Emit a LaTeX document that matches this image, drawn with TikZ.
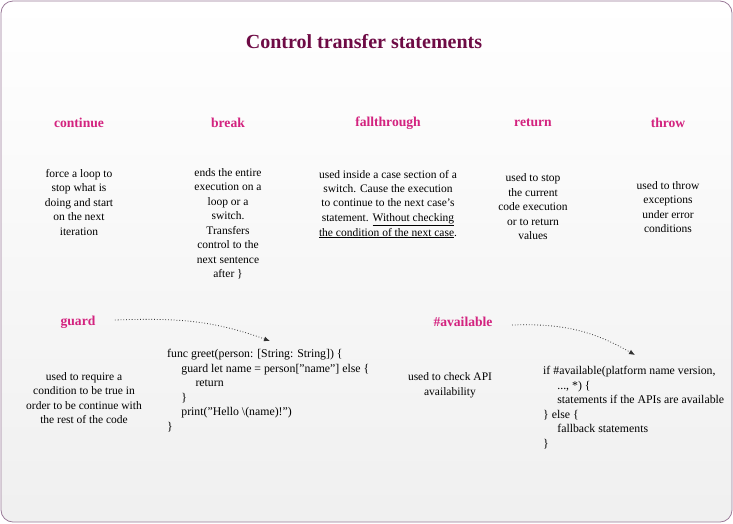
\documentclass[tikz,border=0pt]{standalone}
\usepackage{fontspec}
\setmainfont{Liberation Serif}
\usetikzlibrary{arrows.meta}
\definecolor{ttl}{HTML}{6E0B45}
\definecolor{kw}{HTML}{D3237F}
\definecolor{frame}{HTML}{9A7A98}
\newcommand{\dq}{\symbol{34}}
\begin{document}
\begin{tikzpicture}[x=1pt,y=-1pt,
  kwd/.style={text=kw,font=\bfseries\fontsize{13.6}{16}\selectfont},
  desc/.style={align=center,font=\fontsize{11.5}{14.5}\selectfont,inner sep=0},
  code/.style={align=left,font=\fontsize{11.8}{14.6}\selectfont,inner sep=0,anchor=north west},
  link/.style={dotted,line width=0.8pt,-{Latex[length=6pt,width=5pt]},black!80}]
\useasboundingbox (0,0) rectangle (733,523);
\shade[top color=white,bottom color=black!6,draw=frame,rounded corners=12pt,line width=0.8pt] (1,1) rectangle (732,522);
\node[text=ttl,font=\bfseries\fontsize{20}{24}\selectfont] (title) at (364,42) {Control transfer statements};
\node[kwd] (k1) at (79,123) {continue};
\node[kwd] (k2) at (228,123) {break};
\node[kwd] (k3) at (388,123) {fallthrough};
\node[kwd] (k4) at (533,123) {return};
\node[kwd] (k5) at (668,123) {throw};
\node[desc] (d1) at (79,202) {force a loop to\\stop what is\\doing and start\\on the next\\iteration};
\node[desc] (d2) at (228,224) {ends the entire\\execution on a\\loop or a\\switch.\\Transfers\\control to the\\next sentence\\after \}};
\node[desc] (d3) at (388,204) {used inside a case section of a\\switch. Cause the execution\\to continue to the next case's\\statement. \underline{Without checking}\\\underline{the condition of the next case}.};
\node[desc] (d4) at (533,207) {used to stop\\the current\\code execution\\or to return\\values};
\node[desc] (d5) at (668,207) {used to throw\\exceptions\\under error\\conditions};
\node[kwd] (g) at (78,322) {guard};
\node[kwd] (a) at (463,322) {\#available};
\node[desc] (gd) at (84,398) {used to require a\\condition to be true in\\order to be continue with\\the rest of the code};
\node[desc] (ad) at (450,385) {used to check API\\availability};
\node[code] (gc) at (167,349) {func greet(person: [String: String]) \{\\\hspace{1.2em}guard let name = person[\dq name\dq] else \{\\\hspace{2.4em}return\\\hspace{1.2em}\}\\\hspace{1.2em}print(\dq Hello \textbackslash(name)!\dq)\\\}};
\node[code] (ac) at (543,366) {if \#available(platform name version,\\\hspace{1.2em}..., *) \{\\\hspace{1.2em}statements if the APIs are available\\\} else \{\\\hspace{1.2em}fallback statements\\\}};
\coordinate (gt) at (270,341);
\coordinate (at) at (635,355);
\draw[link] (g.east)++(16,-2) to[out=2,in=160] (gt);
\draw[link] (a.east)++(16,3) to[out=2,in=150] (at);
\end{tikzpicture}
\end{document}
